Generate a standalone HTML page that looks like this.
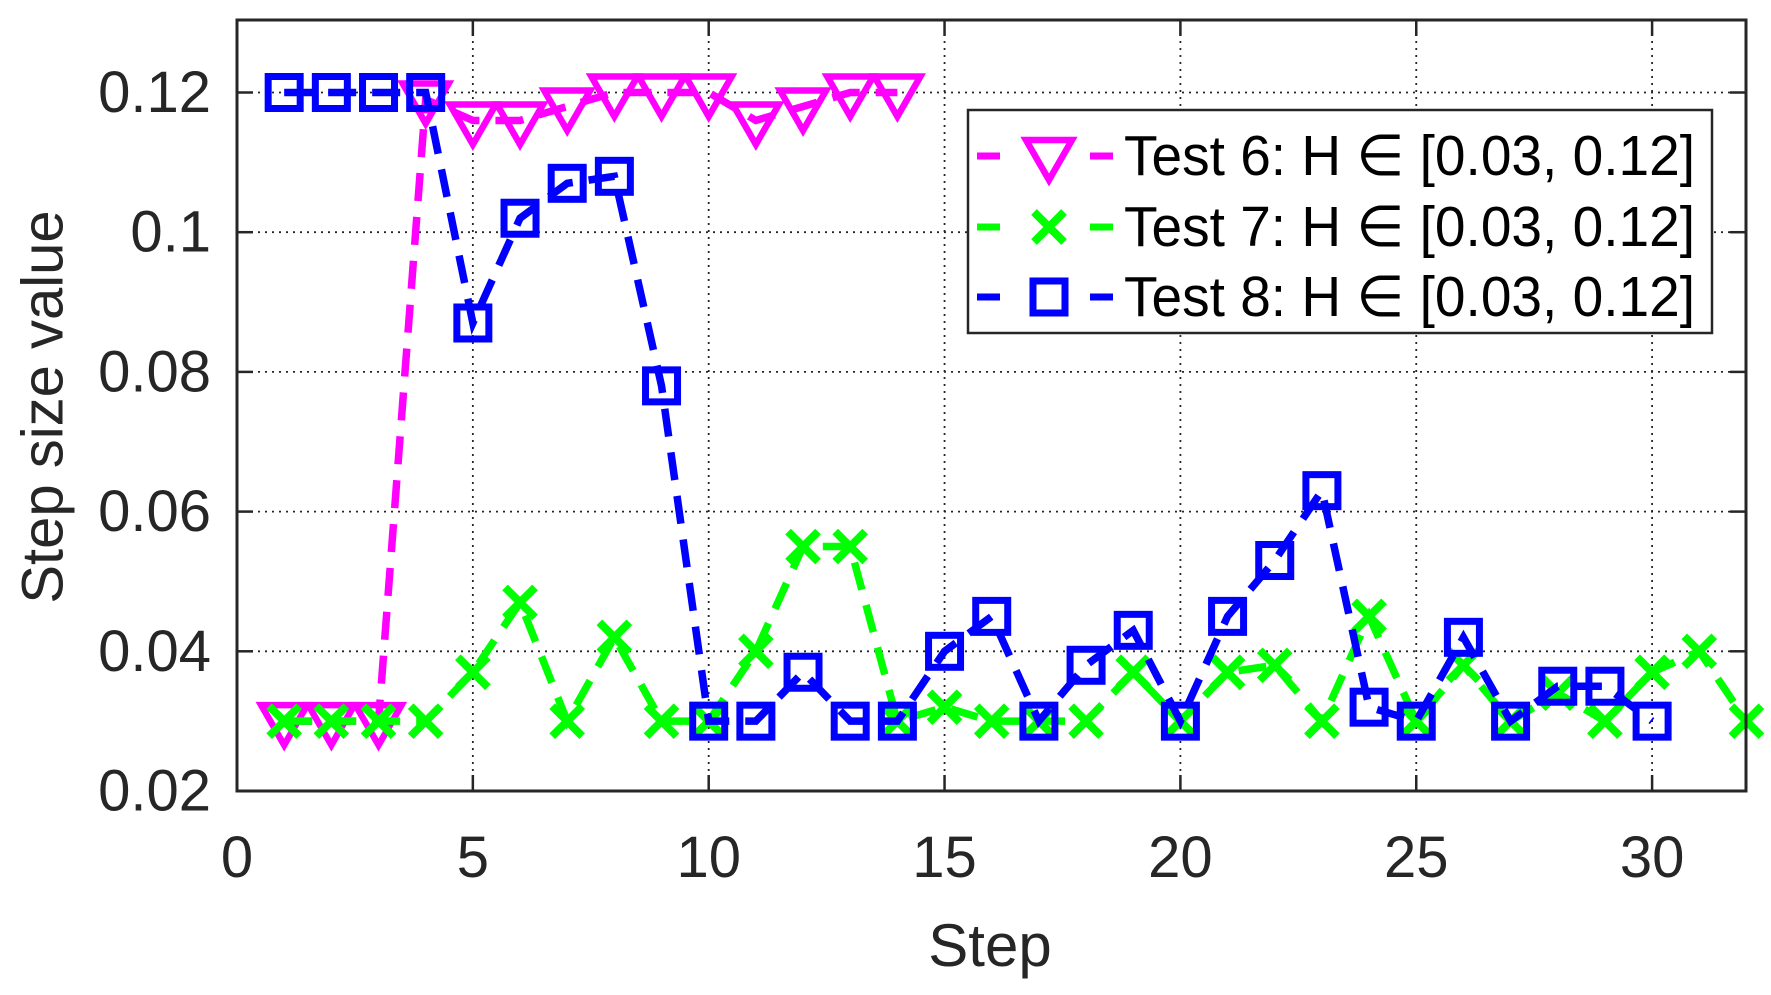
<!DOCTYPE html>
<html><head><meta charset="utf-8"><style>
html,body{margin:0;padding:0;background:#fff;}
svg{display:block;font-family:"Liberation Sans",Arial,sans-serif;}
</style></head><body>
<svg id="s" width="1771" height="995" viewBox="0 0 1771 995" xmlns="http://www.w3.org/2000/svg">
<rect width="1771" height="995" fill="#fff"/>
<g id="grid" stroke="#262626" stroke-width="1.8" stroke-dasharray="2,5" fill="none"></g>
<g id="series"></g>
<g id="axes"></g>
<text x="43" y="407" transform="rotate(-90 43 407)" text-anchor="middle" dominant-baseline="central" font-size="58" fill="#262626">Step size value</text>
<text x="990" y="966" text-anchor="middle" font-size="60" fill="#262626">Step</text>
<g id="legend"></g>
</svg>
<script>
const NS="http://www.w3.org/2000/svg";
const L=237,R=1746,T=20,B=791;
const X=v=>L+v*47.17, Y=v=>B-(v-0.02)*6985;
function el(p,tag,a,txt){const e=document.createElementNS(NS,tag);for(const k in a)e.setAttribute(k,a[k]);if(txt!==undefined)e.textContent=txt;document.getElementById(p).appendChild(e);return e;}
for(const x of [5,10,15,20,25,30]) el('grid','line',{x1:X(x),x2:X(x),y1:T,y2:B});
for(const y of [0.04,0.06,0.08,0.1,0.12]) el('grid','line',{x1:L,x2:R,y1:Y(y),y2:Y(y)});
el('axes','rect',{x:L,y:T,width:R-L,height:B-T,fill:'none',stroke:'#262626','stroke-width':3});
for(const x of [0,5,10,15,20,25,30]){el('axes','line',{x1:X(x),x2:X(x),y1:B,y2:B-16,stroke:'#262626','stroke-width':2.5});el('axes','line',{x1:X(x),x2:X(x),y1:T,y2:T+16,stroke:'#262626','stroke-width':2.5});
 el('axes','text',{x:X(x),y:877,'text-anchor':'middle','font-size':58,fill:'#262626'},String(x));}
for(const y of [0.02,0.04,0.06,0.08,0.1,0.12]){el('axes','line',{x1:L,x2:L+16,y1:Y(y),y2:Y(y),stroke:'#262626','stroke-width':2.5});el('axes','line',{x1:R,x2:R-16,y1:Y(y),y2:Y(y),stroke:'#262626','stroke-width':2.5});
 el('axes','text',{x:211,y:Y(y),'text-anchor':'end','dominant-baseline':'central','font-size':58,fill:'#262626'},String(y));}
const s6=[0.03,0.03,0.03,0.119,0.116,0.116,0.118,0.12,0.12,0.12,0.116,0.118,0.12,0.12];
const s7=[0.03,0.03,0.03,0.03,0.037,0.047,0.03,0.042,0.03,0.03,0.04,0.055,0.055,0.03,0.032,0.03,0.03,0.03,0.037,0.03,0.037,0.038,0.03,0.045,0.03,0.038,0.03,0.034,0.03,0.037,0.04,0.03];
const s8=[0.12,0.12,0.12,0.12,0.087,0.102,0.107,0.108,0.078,0.03,0.03,0.037,0.03,0.03,0.04,0.045,0.03,0.038,0.043,0.03,0.045,0.053,0.063,0.032,0.03,0.042,0.03,0.035,0.035,0.03];
function tri(g,cx,cy,c){el(g,'polygon',{points:`${cx-23},${cy-16} ${cx+23},${cy-16} ${cx},${cy+24}`,fill:'none',stroke:c,'stroke-width':6.5});}
function cross(g,cx,cy,c){el(g,'path',{d:`M${cx-15},${cy-15}L${cx+15},${cy+15}M${cx-15},${cy+15}L${cx+15},${cy-15}`,stroke:c,'stroke-width':8,fill:'none'});}
function sq(g,cx,cy,c){el(g,'rect',{x:cx-16,y:cy-16,width:32,height:32,fill:'none',stroke:c,'stroke-width':7});}
function series(d,c,mk){const pts=d.map((v,i)=>X(i+1)+','+Y(v)).join(' ');
 el('series','polyline',{points:pts,fill:'none',stroke:c,'stroke-width':7.5,'stroke-dasharray':'28,16'});
 d.forEach((v,i)=>mk('series',X(i+1),Y(v),c));}
series(s6,'#ff00ff',tri);series(s7,'#00ff00',cross);series(s8,'#0000ff',sq);
el('legend','rect',{x:968,y:110,width:744,height:223,fill:'#fff',stroke:'#262626','stroke-width':2.5});
const rows=[[156,'#ff00ff',tri,'Test 6: H ∈ [0.03, 0.12]'],[227,'#00ff00',cross,'Test 7: H ∈ [0.03, 0.12]'],[297,'#0000ff',sq,'Test 8: H ∈ [0.03, 0.12]']];
for(const [y,c,mk,t] of rows){el('legend','line',{x1:977,x2:1000,y1:y,y2:y,stroke:c,'stroke-width':7});
 el('legend','line',{x1:1090,x2:1113,y1:y,y2:y,stroke:c,'stroke-width':7});
 mk('legend',1049,y,c);
 el('legend','text',{x:1124,y:y,'dominant-baseline':'central','font-size':57,fill:'#000',textLength:571,lengthAdjust:'spacingAndGlyphs'},t);}
</script>
</body></html>
